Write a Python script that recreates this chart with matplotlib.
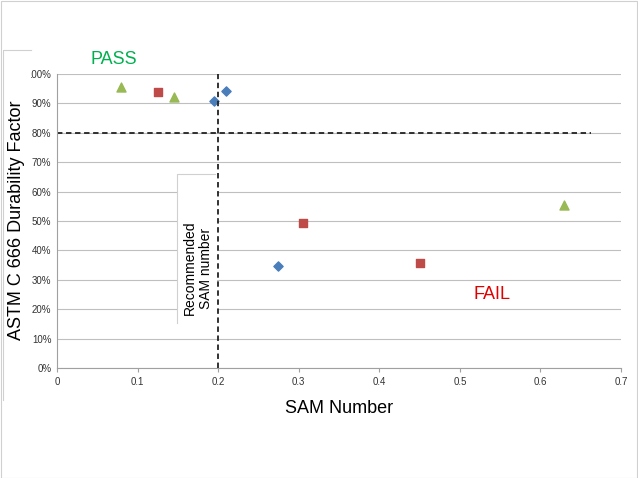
import matplotlib.pyplot as plt
import matplotlib.ticker as ticker
from matplotlib.patches import Rectangle

plt.rcParams['font.family'] = ['Liberation Sans', 'DejaVu Sans']

# datos
sam_blue = [0.195, 0.21, 0.274]
df_blue = [90.8, 94.2, 34.7]
sam_red = [0.125, 0.305, 0.45]
df_red = [93.9, 49.3, 35.7]
sam_green = [0.08, 0.145, 0.629]
df_green = [95.6, 92.2, 55.4]

limite_df = 80
sam_recomendado = 0.2

fig = plt.figure(figsize=(6.38, 4.78), dpi=100)
ax = fig.add_axes([57/638, 1 - 368/478, 564/638, 294/478])

ax.scatter(sam_blue, df_blue, marker='D', s=22, color='#4a7ebb', zorder=3)
ax.scatter(sam_red, df_red, marker='s', s=38, color='#be4b48', zorder=3)
ax.scatter(sam_green, df_green, marker='^', s=42, color='#98b954', zorder=3)

# lineas de corte
ax.plot([0, 0.663], [limite_df, limite_df], color='#222222', lw=1.3, dashes=(3, 2), zorder=2)
ax.axvline(sam_recomendado, color='#222222', lw=1.3, dashes=(3, 2), zorder=5)

ax.set_xlim(0, 0.7)
ax.set_ylim(0, 100)
ax.set_xticks([0, 0.1, 0.2, 0.3, 0.4, 0.5, 0.6, 0.7])
ax.set_xticklabels(['0', '0.1', '0.2', '0.3', '0.4', '0.5', '0.6', '0.7'])
ax.yaxis.set_major_locator(ticker.MultipleLocator(10))
ax.yaxis.set_major_formatter(ticker.FuncFormatter(lambda v, p: '%d%%' % v))
ax.grid(axis='y', color='#bfbfbf', lw=0.8)
ax.set_axisbelow(True)
for s in ['top', 'right']:
    ax.spines[s].set_visible(False)
ax.spines['left'].set_color('#a0a0a0')
ax.spines['bottom'].set_color('#a0a0a0')
ax.tick_params(labelsize=7, colors='#333333', length=3, color='#a0a0a0')
ax.tick_params(axis='y', length=0, pad=4)

ax.set_xlabel('SAM Number', fontsize=13, labelpad=9)

ax.text(0.0707, 104.8, 'PASS', color='#00b050', fontsize=13, ha='center', va='center', clip_on=False)
ax.text(0.54, 25, 'FAIL', color='#e00000', fontsize=13, ha='center', va='center')

# caja del texto "Recommended"
ax.add_patch(Rectangle((0.149, 15.3), 0.049, 50.7, facecolor='white', edgecolor='none', zorder=4))
ax.plot([0.149, 0.149, 0.196], [15.3, 66, 66], color='#d0d0d0', lw=0.8, zorder=4)
ax.text(0.1745, 34, 'Recommended\nSAM number', rotation=90, fontsize=10,
        ha='center', va='center', zorder=5)

# caja blanca del titulo del eje y
fig.patches.append(Rectangle((2/638, 1 - 402/478), 29/638, 352/478, transform=fig.transFigure,
                             facecolor='white', edgecolor='none', zorder=5))
fig.add_artist(plt.Line2D([3/638, 3/638, 31/638], [1 - 400/478, 1 - 50/478, 1 - 50/478],
                          transform=fig.transFigure, color='#d0d0d0', lw=0.8, zorder=6))
fig.text(17/638, 1 - 220/478, 'ASTM C 666 Durability Factor', rotation=90, fontsize=13,
         ha='center', va='center', zorder=7)

# borde
fig.add_artist(Rectangle((0.5/638, 0.5/478), 636.5/638, 476.5/478, transform=fig.transFigure,
                         facecolor='none', edgecolor='#d0d0d0', lw=0.8))

fig.savefig('out.png', dpi=100)
